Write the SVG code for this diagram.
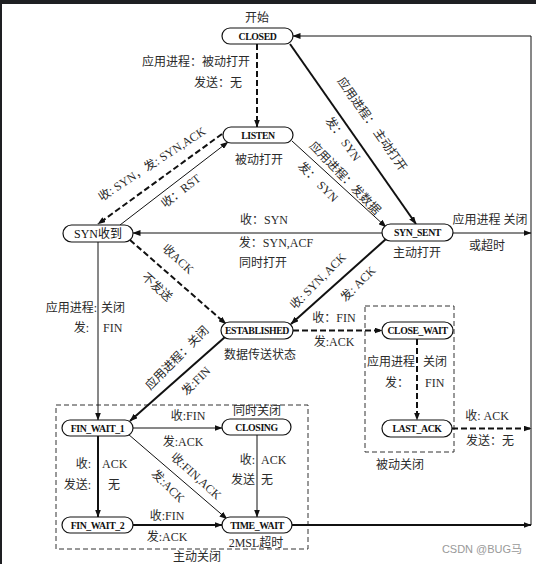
<svg xmlns="http://www.w3.org/2000/svg" width="536" height="564" viewBox="0 0 536 564">
<defs>
<marker id="ar" viewBox="0 0 8 6" refX="7.5" refY="3" markerWidth="8" markerHeight="6" markerUnits="userSpaceOnUse" orient="auto">
<path d="M0,0 L8,3 L0,6 z" fill="#111"/>
</marker>
<style>
.nd{fill:#fff;stroke:#111;stroke-width:1.2}
.nl{font-family:"Liberation Serif","Noto Sans CJK SC",serif;font-weight:bold;font-size:9.8px;fill:#111;text-anchor:middle;dominant-baseline:central;letter-spacing:-0.4px}
.lb{font-family:"Liberation Serif","Noto Sans CJK SC",serif;font-size:12px;fill:#2a2a2a;dominant-baseline:central}
.m{text-anchor:middle}
.e{text-anchor:end}
.c{fill:none;stroke:#111}
.tk{stroke-width:2}
.tn{stroke-width:1}
.ds{stroke-dasharray:6,3}
.box{fill:none;stroke:#333;stroke-width:1;stroke-dasharray:5,3}
</style>
</defs>
<rect width="536" height="564" fill="#fff"/>
<rect width="536" height="4" fill="#1e1f22"/>
<rect width="2" height="564" fill="#1e1f22"/>

<g id="boxes">
<rect class="box" x="56" y="405" width="252" height="144"/>
<rect class="box" x="365" y="306" width="89" height="146"/>
</g>

<g id="connectors">
<line class="c tk ds" x1="257" y1="44" x2="257" y2="127" marker-end="url(#ar)"/>
<line class="c tk" x1="290" y1="44" x2="416" y2="224" marker-end="url(#ar)"/>
<line class="c tn" x1="292" y1="141" x2="386" y2="227" marker-end="url(#ar)"/>
<line class="c tk ds" x1="222" y1="134" x2="98" y2="224" marker-end="url(#ar)"/>
<line class="c tn" x1="120" y1="225" x2="228" y2="142" marker-end="url(#ar)"/>
<line class="c tn" x1="382" y1="233" x2="133" y2="233" marker-end="url(#ar)"/>
<line class="c tk ds" x1="130" y1="240" x2="226" y2="324" marker-end="url(#ar)"/>
<line class="c tk" x1="386" y1="239" x2="291" y2="324" marker-end="url(#ar)"/>
<line class="c tn" x1="453" y1="233" x2="531" y2="233" marker-end="url(#ar)"/>
<path class="c tn" d="M531,525 V36 H293" marker-end="url(#ar)"/>
<line class="c tk ds" x1="293" y1="330.5" x2="382" y2="330.5" marker-end="url(#ar)"/>
<line class="c tk ds" x1="417" y1="339" x2="417" y2="420" marker-end="url(#ar)"/>
<line class="c tk ds" x1="452" y1="428.5" x2="531" y2="428.5" marker-end="url(#ar)"/>
<line class="c tn" x1="98" y1="242" x2="98" y2="420" marker-end="url(#ar)"/>
<line class="c tk" x1="225" y1="337" x2="130" y2="421" marker-end="url(#ar)"/>
<line class="c tn" x1="133" y1="428" x2="222" y2="428" marker-end="url(#ar)"/>
<line class="c tn" x1="128" y1="434" x2="227" y2="519" marker-end="url(#ar)"/>
<line class="c tk" x1="98" y1="436" x2="98" y2="517" marker-end="url(#ar)"/>
<line class="c tk" x1="133" y1="525" x2="222" y2="525" marker-end="url(#ar)"/>
<line class="c tn" x1="257" y1="435" x2="257" y2="517" marker-end="url(#ar)"/>
<line class="c tk" x1="292" y1="525" x2="531" y2="525" marker-end="url(#ar)"/>
</g>

<g id="CLOSED"><rect class="nd" x="222" y="28" width="71" height="16" rx="8"/><text class="nl" x="257.5" y="36">CLOSED</text></g>
<g id="LISTEN"><rect class="nd" x="223" y="127" width="70" height="16" rx="8"/><text class="nl" x="258" y="135">LISTEN</text></g>
<g id="SYN_RCVD"><rect class="nd" x="63" y="225" width="70" height="17" rx="8.5"/><text class="lb m" x="98" y="233.5" style="fill:#111">SYN收到</text></g>
<g id="SYN_SENT"><rect class="nd" x="382" y="224" width="71" height="17" rx="8.5"/><text class="nl" x="417.5" y="232.5">SYN_SENT</text></g>
<g id="ESTABLISHED"><rect class="nd" x="221" y="322" width="72" height="17" rx="8.5"/><text class="nl" x="257" y="330.5">ESTABLISHED</text></g>
<g id="CLOSE_WAIT"><rect class="nd" x="382" y="322" width="71" height="17" rx="8.5"/><text class="nl" x="417.5" y="330.5">CLOSE_WAIT</text></g>
<g id="LAST_ACK"><rect class="nd" x="382" y="420" width="70" height="17" rx="8.5"/><text class="nl" x="417" y="428.5">LAST_ACK</text></g>
<g id="FIN_WAIT_1"><rect class="nd" x="62" y="420" width="71" height="16" rx="8"/><text class="nl" x="97.5" y="428">FIN_WAIT_1</text></g>
<g id="FIN_WAIT_2"><rect class="nd" x="62" y="517" width="71" height="16" rx="8"/><text class="nl" x="97.5" y="525">FIN_WAIT_2</text></g>
<g id="CLOSING"><rect class="nd" x="222" y="419" width="69" height="16" rx="8"/><text class="nl" x="256.5" y="427">CLOSING</text></g>
<g id="TIME_WAIT"><rect class="nd" x="222" y="517" width="70" height="16" rx="8"/><text class="nl" x="257" y="525">TIME_WAIT</text></g>

<g id="labels">
<text class="lb m" x="257" y="18">开始</text>
<text class="lb e" x="250" y="62">应用进程：被动打开</text>
<text class="lb e" x="242" y="83">发送：无</text>
<text class="lb m" x="259" y="160">被动打开</text>
<text class="lb m" transform="translate(372,124) rotate(55)">应用进程： 主动打开</text>
<text class="lb m" transform="translate(343,139) rotate(55)">发： SYN</text>
<text class="lb m" transform="translate(345,178) rotate(46)">应用进程：发数据</text>
<text class="lb m" transform="translate(318,182) rotate(45)">发： SYN</text>
<text class="lb m" transform="translate(152,164) rotate(-33)">收: SYN，发: SYN,ACK</text>
<text class="lb m" transform="translate(181,191) rotate(-38)">收：RST</text>
<text class="lb m" x="264" y="220">收：SYN</text>
<text class="lb m" x="276" y="243">发：SYN,ACF</text>
<text class="lb m" x="263" y="263">同时打开</text>
<text class="lb m" x="417" y="253">主动打开</text>
<text class="lb m" x="490" y="220">应用进程 关闭</text>
<text class="lb m" x="487" y="246">或超时</text>
<text class="lb m" transform="translate(178,259) rotate(42)">收ACK</text>
<text class="lb m" transform="translate(157,287) rotate(42)">不发送</text>
<text class="lb m" transform="translate(318,281) rotate(-45)">收: SYN, ACK</text>
<text class="lb m" transform="translate(358,284) rotate(-45)">发: ACK</text>
<text class="lb m" x="334" y="318">收：FIN</text>
<text class="lb m" x="334" y="342">发:ACK</text>
<text class="lb m" x="260" y="355">数据传送状态</text>
<text class="lb" x="367" y="362">应用进程</text>
<text class="lb" x="423" y="362">关闭</text>
<text class="lb e" x="409" y="383">发：</text>
<text class="lb" x="425" y="383">FIN</text>
<text class="lb m" x="400" y="465">被动关闭</text>
<text class="lb m" x="487" y="416">收: ACK</text>
<text class="lb m" x="490" y="441">发送：无</text>
<text class="lb e" x="97" y="308">应用进程:</text>
<text class="lb" x="101" y="308">关闭</text>
<text class="lb e" x="89" y="328">发:</text>
<text class="lb" x="103" y="328">FIN</text>
<text class="lb m" transform="translate(177,358) rotate(-45)">应用进程：关闭</text>
<text class="lb m" transform="translate(196,381) rotate(-45)">发:FIN</text>
<text class="lb m" x="257" y="411">同时关闭</text>
<text class="lb m" x="188" y="416">收:FIN</text>
<text class="lb m" x="183" y="442">发:ACK</text>
<text class="lb m" transform="translate(196,476) rotate(42)">收:FIN,ACK</text>
<text class="lb m" transform="translate(168,486) rotate(45)">发:ACK</text>
<text class="lb e" x="91" y="464">收:</text>
<text class="lb" x="102" y="464">ACK</text>
<text class="lb e" x="91" y="485">发送:</text>
<text class="lb" x="108" y="485">无</text>
<text class="lb e" x="255" y="460">收:</text>
<text class="lb" x="261" y="460">ACK</text>
<text class="lb e" x="255" y="480">发送</text>
<text class="lb" x="261" y="480">无</text>
<text class="lb m" x="167" y="516">收:FIN</text>
<text class="lb m" x="167" y="537">发:ACK</text>
<text class="lb m" x="256" y="543">2MSL超时</text>
<text class="lb m" x="197" y="557">主动关闭</text>
<text x="482" y="549" style="font-family:'Liberation Sans','Noto Sans CJK SC',sans-serif;font-size:11px;fill:#999;text-anchor:middle;dominant-baseline:central">CSDN @BUG马</text>
</g>
</svg>
